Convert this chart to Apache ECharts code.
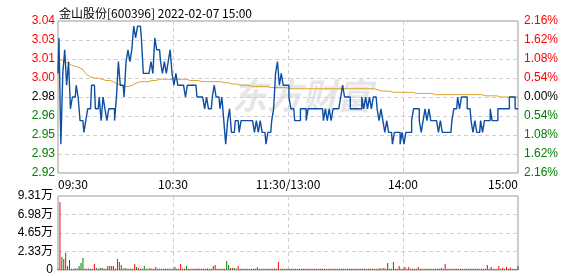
<!DOCTYPE html>
<html><head><meta charset="utf-8">
<script src="https://cdn.jsdelivr.net/npm/echarts@6/dist/echarts.min.js"></script>
<style>html,body{margin:0;padding:0;background:#fff}#c{width:578px;height:276px}</style>
</head><body><div id="c"></div>
<script>
const titleText = '金山股份[600396] 2022-02-07 15:00';
const prevClose = 2.98;
const price = [
3.00,3.03,2.94,3.00,3.02,2.99,3.01,2.97,2.98,2.98,
2.99,2.98,2.96,2.96,2.95,2.96,2.97,2.97,2.99,2.99,
2.97,2.97,2.98,2.96,2.98,2.97,2.96,2.97,2.97,2.97,
2.96,2.98,3.01,2.99,2.99,2.98,3.01,3.02,3.01,3.02,
3.04,3.03,3.04,3.04,3.03,3.00,3.00,3.00,3.00,3.01,
3.00,3.03,3.02,3.02,3.01,3.00,3.01,3.00,3.01,3.02,
3.00,2.99,3.00,2.99,2.99,2.99,2.99,2.98,2.99,2.99,
2.99,2.99,2.99,2.98,2.98,2.98,2.98,2.97,2.98,2.97,
2.97,2.98,2.99,2.98,2.98,2.97,2.98,2.96,2.94,2.96,
2.97,2.95,2.95,2.96,2.96,2.95,2.96,2.96,2.96,2.96,
2.96,2.96,2.96,2.95,2.96,2.95,2.96,2.95,2.95,2.94,
2.95,2.95,2.96,2.97,3.00,3.01,2.99,3.00,2.99,2.99,
2.99,2.98,2.97,2.97,2.96,2.96,2.96,2.97,2.97,2.97,
2.96,2.97,2.97,2.97,2.97,2.97,2.97,2.97,2.97,2.96,
2.97,2.96,2.97,2.96,2.97,2.97,2.97,2.97,2.98,2.99,
2.98,2.98,2.98,2.97,2.97,2.97,2.97,2.97,2.97,2.98,
2.97,2.98,2.97,2.98,2.97,2.98,2.98,2.97,2.96,2.97,
2.96,2.95,2.96,2.95,2.95,2.94,2.95,2.95,2.95,2.94,
2.95,2.94,2.95,2.95,2.95,2.96,2.97,2.97,2.97,2.96,
2.95,2.96,2.97,2.96,2.97,2.96,2.96,2.96,2.96,2.95,
2.96,2.95,2.95,2.95,2.95,2.95,2.96,2.97,2.97,2.98,
2.97,2.98,2.98,2.98,2.97,2.97,2.96,2.95,2.96,2.95,
2.95,2.96,2.95,2.96,2.96,2.96,2.97,2.96,2.96,2.96,
2.97,2.97,2.97,2.97,2.97,2.97,2.98,2.98,2.98,2.97,
2.97
];
const avgPrice = [
3.010,3.012,3.011,3.010,3.010,3.009,3.008,3.007,3.006,3.006,
3.005,3.005,3.004,3.003,3.001,2.999,2.998,2.997,2.997,2.996,
2.996,2.996,2.995,2.995,2.995,2.994,2.994,2.994,2.993,2.993,
2.992,2.991,2.991,2.990,2.990,2.989,2.989,2.989,2.989,2.990,
2.991,2.992,2.992,2.993,2.993,2.993,2.993,2.993,2.994,2.994,
2.994,2.994,2.994,2.995,2.995,2.995,2.995,2.995,2.995,2.995,
2.995,2.995,2.995,2.995,2.995,2.995,2.995,2.995,2.994,2.994,
2.994,2.994,2.994,2.994,2.994,2.993,2.993,2.993,2.993,2.993,
2.993,2.993,2.993,2.993,2.993,2.993,2.993,2.992,2.992,2.992,
2.991,2.991,2.991,2.991,2.990,2.990,2.990,2.990,2.990,2.990,
2.990,2.989,2.989,2.989,2.989,2.989,2.989,2.989,2.989,2.989,
2.988,2.988,2.988,2.988,2.988,2.988,2.988,2.988,2.988,2.988,
2.988,2.987,2.987,2.987,2.987,2.987,2.987,2.987,2.987,2.987,
2.987,2.987,2.987,2.987,2.987,2.987,2.987,2.987,2.987,2.987,
2.987,2.987,2.987,2.987,2.987,2.987,2.987,2.987,2.987,2.987,
2.987,2.987,2.987,2.987,2.987,2.987,2.987,2.987,2.987,2.987,
2.987,2.987,2.987,2.987,2.987,2.987,2.987,2.986,2.986,2.985,
2.985,2.985,2.985,2.985,2.985,2.984,2.984,2.984,2.984,2.984,
2.984,2.984,2.984,2.984,2.984,2.984,2.983,2.983,2.983,2.983,
2.983,2.983,2.983,2.983,2.983,2.983,2.982,2.982,2.982,2.982,
2.982,2.982,2.982,2.982,2.982,2.982,2.982,2.982,2.982,2.982,
2.982,2.982,2.982,2.982,2.982,2.982,2.982,2.982,2.982,2.982,
2.982,2.982,2.981,2.981,2.981,2.981,2.981,2.981,2.981,2.981,
2.980,2.980,2.980,2.980,2.980,2.980,2.980,2.980,2.980,2.980,
2.980
];
const volume = [
1500,85500,16800,13800,21800,5000,12600,1700,1600,1800,
2000,5000,8800,15000,1700,1600,1800,1500,1700,7500,
2500,1600,2500,2500,1700,1500,5000,5000,5000,5000,
1700,13800,10000,6300,1800,2500,1600,1700,1500,1700,
7500,3800,2500,1700,1600,5000,1700,1500,2500,1600,
1700,3800,1500,1600,1700,1500,1800,1600,1500,1700,
1600,3800,1700,1500,7500,1800,1600,5000,1700,1500,
1600,1700,1500,1800,1600,1500,1700,1600,1800,1500,
1700,5000,6300,1600,1500,1700,1600,1500,11300,6300,
2500,2500,2500,1700,5000,1600,1500,1700,1600,1500,
1700,1600,1500,1700,3400,1600,1500,1700,1600,1500,
1700,1600,1500,1800,1600,10000,1700,1600,1500,1700,
1600,1500,1700,1600,1500,1700,1600,1500,1700,1600,
1500,1700,1600,1500,1700,1600,1500,1700,1600,1500,
1700,1600,1500,1700,1600,1500,1700,1600,1500,1700,
1600,1500,1700,1600,1500,1700,1600,1500,1700,1600,
1500,1700,1600,1500,1700,1600,1500,1700,2500,1600,
2500,1600,8800,1500,1700,10000,1600,1500,5000,1700,
1600,3800,1500,3800,1700,1600,1500,1700,3800,1600,
1500,1700,1600,1500,1700,1600,1500,1700,1600,1500,
2500,1700,7500,1600,1500,1700,1600,1500,1700,1600,
1500,1700,1600,1500,1700,1600,1500,1700,1600,1500,
1700,1600,1500,1700,6300,1600,3800,1700,1600,1500,
5000,1600,2500,1700,3800,1600,3000,1700,1600,1500,
5000
];
// r = up (red), g = down (green)
const volDir = (
'rrgrgrgggr'+'ggggg'+'rrrrr'+'grggrggrrr'+'grrgrgrrgr'+
'rgrrggrgrr'+'grrggrgrgr'+'gggrrrrgrg'+'rrgrrgrgrr'+
'grrgrgrrgg'+'rggrrggrgr'+'grgrgrrgrg'+'rgrrgrggrr'+
'rgrggrrgrr'+'rgrrrrgrrg'+'rgrrrgrrgr'+'rggrrrgrgr'+
'grgrrgrrrg'+'rggg'+'rrgrrg'+'rrrrrrgrrr'+'grgrgrgrrg'+
'grrrgrrgrr'+'grggrrggrr'+'grgrrgrrgr'+'rrrgrrrgrr'+'g'
).split('');
const yPctMin = -2.16, yPctMax = 2.16, yPctStep = 0.54;
const leftTicks = ['2.92','2.93','2.95','2.96','2.98','3.00','3.01','3.03','3.04'];
const rightTicks = ['2.16%','1.62%','1.08%','0.54%','0.00%','0.54%','1.08%','1.62%','2.16%'];
const volMax = 93100, volStep = 23275;
const volTicks = ['0','2.33万','4.65万','6.98万','9.31万'];
const xTickIdx = [0, 60, 120, 180, 240];
const xTickText = ['09:30', '10:30', '11:30/13:00', '14:00', '15:00'];

// minute categories 09:30-11:30, 13:01-15:00
const times = [];
function pad(n){return (n<10?'0':'')+n;}
for (let m = 9*60+30; m <= 11*60+30; m++) times.push(pad(Math.floor(m/60))+':'+pad(m%60));
for (let m = 13*60+1; m <= 15*60; m++) times.push(pad(Math.floor(m/60))+':'+pad(m%60));

const toPct = p => (p - prevClose) / prevClose * 100;
const pricePct = price.map(toPct);
const avgPct = avgPrice.map(toPct);
const tickIndex = v => Math.round((v - yPctMin) / yPctStep);
const tickColor = v => { const k = tickIndex(v); return k > 4 ? '#ff0000' : (k < 4 ? '#008000' : '#000000'); };
const RED = '#ff0000', GREEN = '#008000';
const volData = volume.map((v, i) => ({ value: v, itemStyle: { color: volDir[i] === 'g' ? GREEN : RED } }));

const lblFont = 'Liberation Sans, Arial, "Noto Sans CJK SC", sans-serif';
const gridLeft = 58, gridRight = 60;
const chart = echarts.init(document.getElementById('c'), null, { renderer: 'canvas' });
chart.setOption({
  animation: false,
  backgroundColor: '#fff',
  title: { text: titleText, left: 54, top: 2, textStyle: { fontSize: 12, fontWeight: 'normal', color: '#000', fontFamily: '"Noto Sans CJK SC", sans-serif' } },
  graphic: [{
    type: 'text', left: 232, top: 78, z: 0, silent: true,
    style: { text: '东方财富', fontSize: 35, fontWeight: 'bold', fontStyle: 'italic', fill: '#e6e6e6', fontFamily: '"Noto Sans CJK SC", sans-serif' }
  }],
  grid: [
    { left: gridLeft, right: gridRight, top: 21, height: 152, show: true, borderColor: '#999', borderWidth: 1, backgroundColor: 'transparent' },
    { left: gridLeft, right: gridRight, top: 196, height: 74, show: true, borderColor: '#999', borderWidth: 1, backgroundColor: 'transparent' }
  ],
  xAxis: [
    { type: 'category', gridIndex: 0, data: times, boundaryGap: false,
      axisLine: { show: false }, axisTick: { show: false },
      axisLabel: { interval: i => xTickIdx.indexOf(i) >= 0, formatter: (v, i) => xTickText[xTickIdx.indexOf(i)], margin: 5,
        fontSize: 12, color: '#000', fontFamily: '"Noto Sans CJK SC", sans-serif', alignMinLabel: 'left', alignMaxLabel: 'right', showMinLabel: true, showMaxLabel: true, hideOverlap: false },
      splitLine: { show: true, interval: i => i === 60 || i === 120 || i === 180, lineStyle: { color: '#cfcfcf', type: [4, 3], width: 1 } } },
    { type: 'category', gridIndex: 1, data: times, boundaryGap: false,
      axisLine: { show: false }, axisTick: { show: false }, axisLabel: { show: false },
      splitLine: { show: true, interval: i => i === 60 || i === 120 || i === 180, lineStyle: { color: '#cfcfcf', type: [4, 3], width: 1 } } }
  ],
  yAxis: [
    { type: 'value', gridIndex: 0, position: 'left', min: yPctMin, max: yPctMax, interval: yPctStep,
      axisLine: { show: false }, axisTick: { show: false },
      axisLabel: { formatter: v => leftTicks[tickIndex(v)], color: tickColor, fontSize: 12, margin: 3, fontFamily: lblFont, showMinLabel: true, showMaxLabel: true },
      splitLine: { show: true, lineStyle: { color: '#cfcfcf', type: [4, 3], width: 1 } } },
    { type: 'value', gridIndex: 0, position: 'right', min: yPctMin, max: yPctMax, interval: yPctStep,
      axisLine: { show: false }, axisTick: { show: false },
      axisLabel: { formatter: v => rightTicks[tickIndex(v)], color: tickColor, fontSize: 12, margin: 6, fontFamily: lblFont, showMinLabel: true, showMaxLabel: true },
      splitLine: { show: false } },
    { type: 'value', gridIndex: 1, position: 'left', min: 0, max: volMax, interval: volStep,
      axisLine: { show: false }, axisTick: { show: false },
      axisLabel: { formatter: v => volTicks[Math.round(v / volStep)], color: '#000', fontSize: 12, margin: 5, fontFamily: lblFont, showMinLabel: true, showMaxLabel: true },
      splitLine: { show: true, lineStyle: { color: '#cfcfcf', type: [4, 3], width: 1 } } }
  ],
  series: [
    { name: 'avg', type: 'line', xAxisIndex: 0, yAxisIndex: 0, data: avgPct, showSymbol: false, z: 3,
      lineStyle: { color: '#dda228', width: 1 }, itemStyle: { color: '#dda228' } },
    { name: 'price', type: 'line', xAxisIndex: 0, yAxisIndex: 0, data: pricePct, showSymbol: false, z: 4, step: 'middle',
      lineStyle: { color: '#0e4fa4', width: 1.4 }, itemStyle: { color: '#0e4fa4' } },
    { name: 'vol', type: 'bar', xAxisIndex: 1, yAxisIndex: 2, data: volData, barWidth: 1, z: 3 }
  ]
});
</script></body></html>
